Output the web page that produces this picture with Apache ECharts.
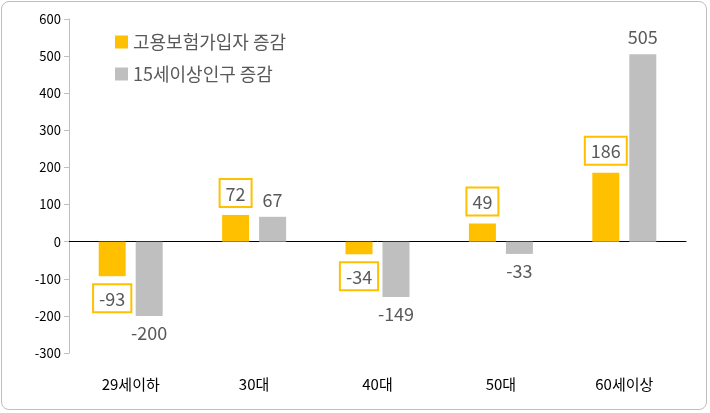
<!DOCTYPE html>
<html><head><meta charset="utf-8">
<script src="https://cdn.jsdelivr.net/npm/echarts@6/dist/echarts.min.js"></script>
<style>html,body{margin:0;padding:0;background:#fff}
#c{width:706px;height:409px;margin:1px;border:1px solid #bfbfbf;border-radius:8px;box-sizing:border-box}</style>
</head><body><div id="c"></div>
<script>
const categories=['29세이하','30대','40대','50대','60세이상'];
const insured=[-93,72,-34,49,186];
const population=[-200,67,-149,-33,505];
const seriesNames=['고용보험가입자 증감','15세이상인구 증감'];
const font='"Noto Sans CJK KR","Noto Sans",sans-serif';
const chart=echarts.init(document.getElementById('c'));
chart.setOption({
  animation:false,
  grid:{left:67,right:20,top:17,bottom:56},
  legend:{orient:'vertical',left:108,top:26,itemGap:14,itemWidth:13,itemHeight:13,icon:'rect',
    textStyle:{fontFamily:font,fontSize:18,color:'#595959'},data:seriesNames},
  xAxis:{type:'category',data:categories,axisTick:{show:false},
    axisLine:{onZero:true,lineStyle:{color:'#000',width:1}},
    axisLabel:{interval:0,margin:24,fontFamily:font,fontSize:15,color:'#000'}},
  yAxis:{type:'value',min:-300,max:600,interval:100,splitLine:{show:false},
    axisLine:{show:true,lineStyle:{color:'#bfbfbf'}},axisTick:{show:true,lineStyle:{color:'#bfbfbf'}},
    axisLabel:{fontFamily:font,fontSize:13,color:'#000'}},
  series:[
    {name:seriesNames[0],type:'bar',barWidth:27,barGap:'37%',itemStyle:{color:'#FFC000'},
     data:insured.map(v=>v<0?{value:v,label:{position:'bottom'}}:v),
     label:{show:true,position:'top',distance:8,fontFamily:font,fontSize:18,color:'#595959',
       borderColor:'#FFC000',borderWidth:2,padding:[6,6,4,6]}},
    {name:seriesNames[1],type:'bar',barWidth:27,itemStyle:{color:'#BFBFBF'},
     data:population.map(v=>v<0?{value:v,label:{position:'bottom'}}:v),
     label:{show:true,position:'top',distance:8,fontFamily:font,fontSize:18,color:'#595959'}}
  ]
});
</script></body></html>
